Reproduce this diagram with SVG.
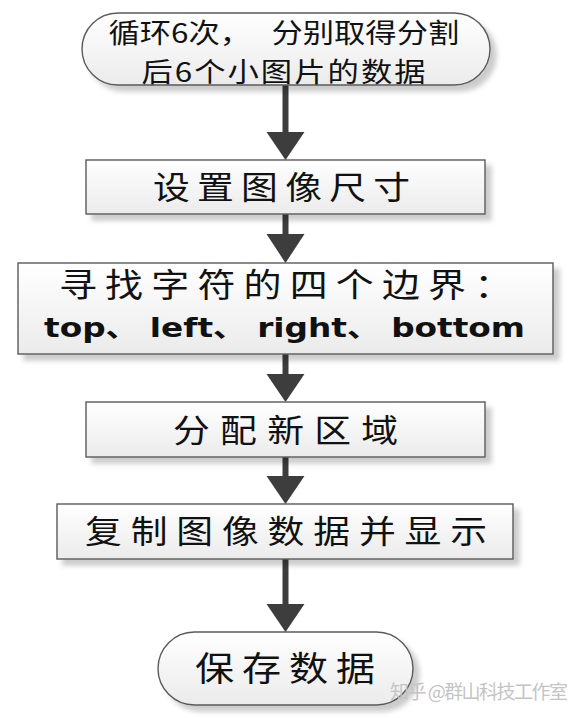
<svg xmlns="http://www.w3.org/2000/svg" width="584" height="718" viewBox="0 0 584 718">
<style>
.shape{fill:url(#fillg);stroke:#5a5a5a;stroke-width:1.4;filter:url(#sh)}
.cjk{font-family:"Noto Sans CJK SC","Noto Sans CJK TC",sans-serif;font-weight:400;fill:#111}
.lat{font-family:"DejaVu Sans","Noto Sans CJK SC",sans-serif;font-weight:bold;fill:#111}
.conn line{stroke:#3d3d3d;stroke-width:6}
.conn polygon{fill:#3d3d3d}
.wm{font-family:"Noto Sans CJK SC",sans-serif;fill:#c4c4c4;font-size:19px}
</style>
<defs>
<linearGradient id="fillg" x1="0" y1="0" x2="0" y2="1">
<stop offset="0" stop-color="#ffffff"/>
<stop offset="1" stop-color="#ebebeb"/>
</linearGradient>
<filter id="sh" x="-10%" y="-20%" width="130%" height="160%">
<feDropShadow dx="6" dy="6" stdDeviation="2.5" flood-color="#000" flood-opacity="0.2"/>
</filter>
</defs>
<rect width="584" height="718" fill="#ffffff"/>
<g id="connectors" class="conn">
<line x1="285.5" y1="85" x2="285.5" y2="134"/>
<polygon points="266.5,132 304.5,132 285.5,160"/>
<line x1="285.5" y1="214" x2="285.5" y2="236"/>
<polygon points="266.5,234 304.5,234 285.5,263"/>
<line x1="285.5" y1="354" x2="285.5" y2="376"/>
<polygon points="266.5,374 304.5,374 285.5,402"/>
<line x1="285.5" y1="457" x2="285.5" y2="478"/>
<polygon points="266.5,476 304.5,476 285.5,504"/>
<line x1="285.5" y1="559" x2="285.5" y2="606"/>
<polygon points="266.5,604 304.5,604 285.5,632"/>
</g>
<g id="start">
<rect class="shape" x="82" y="13" width="408" height="72" rx="36" ry="36"/>
<text class="cjk" font-size="27" transform="translate(108.5,42.5) scale(1.16,1)"><tspan x="0" y="0">循环6次，</tspan><tspan x="140.5" y="0">分别取得分割</tspan><tspan x="28.4" y="39.3" letter-spacing="1.76">后6个小图片的数据</tspan></text>
</g>
<g id="set-size">
<rect class="shape" x="86" y="160" width="399" height="54"/>
<text class="cjk" font-size="32" transform="translate(153,199) scale(1.15,1)" x="0" y="0" textLength="223.5" lengthAdjust="spacing">设置图像尺寸</text>
</g>
<g id="find-bounds">
<rect class="shape" x="18" y="263" width="535" height="91"/>
<text class="cjk" font-size="33" transform="translate(59,297) scale(1.15,1)" x="0" y="0" textLength="394" lengthAdjust="spacing">寻找字符的四个边界：</text>
<text class="lat" font-size="27" x="44" y="337" textLength="481" lengthAdjust="spacingAndGlyphs">top、 left、 right、 bottom</text>
</g>
<g id="allocate">
<rect class="shape" x="86" y="402" width="399" height="55"/>
<text class="cjk" font-size="32" transform="translate(173,441.5) scale(1.15,1)" x="0" y="0" textLength="195.7" lengthAdjust="spacing">分配新区域</text>
</g>
<g id="copy-show">
<rect class="shape" x="57" y="504" width="456" height="55"/>
<text class="cjk" font-size="32" transform="translate(85,543) scale(1.15,1)" x="0" y="0" textLength="349.6" lengthAdjust="spacing">复制图像数据并显示</text>
</g>
<g id="save">
<rect class="shape" x="158" y="632" width="255" height="73" rx="36.5" ry="36.5"/>
<text class="cjk" font-size="34" transform="translate(195,680.5) scale(1.15,1)" x="0" y="0" textLength="156.5" lengthAdjust="spacing">保存数据</text>
</g>
<text class="wm" x="390" y="699" textLength="178" lengthAdjust="spacing">知乎 @群山科技工作室</text>
</svg>
